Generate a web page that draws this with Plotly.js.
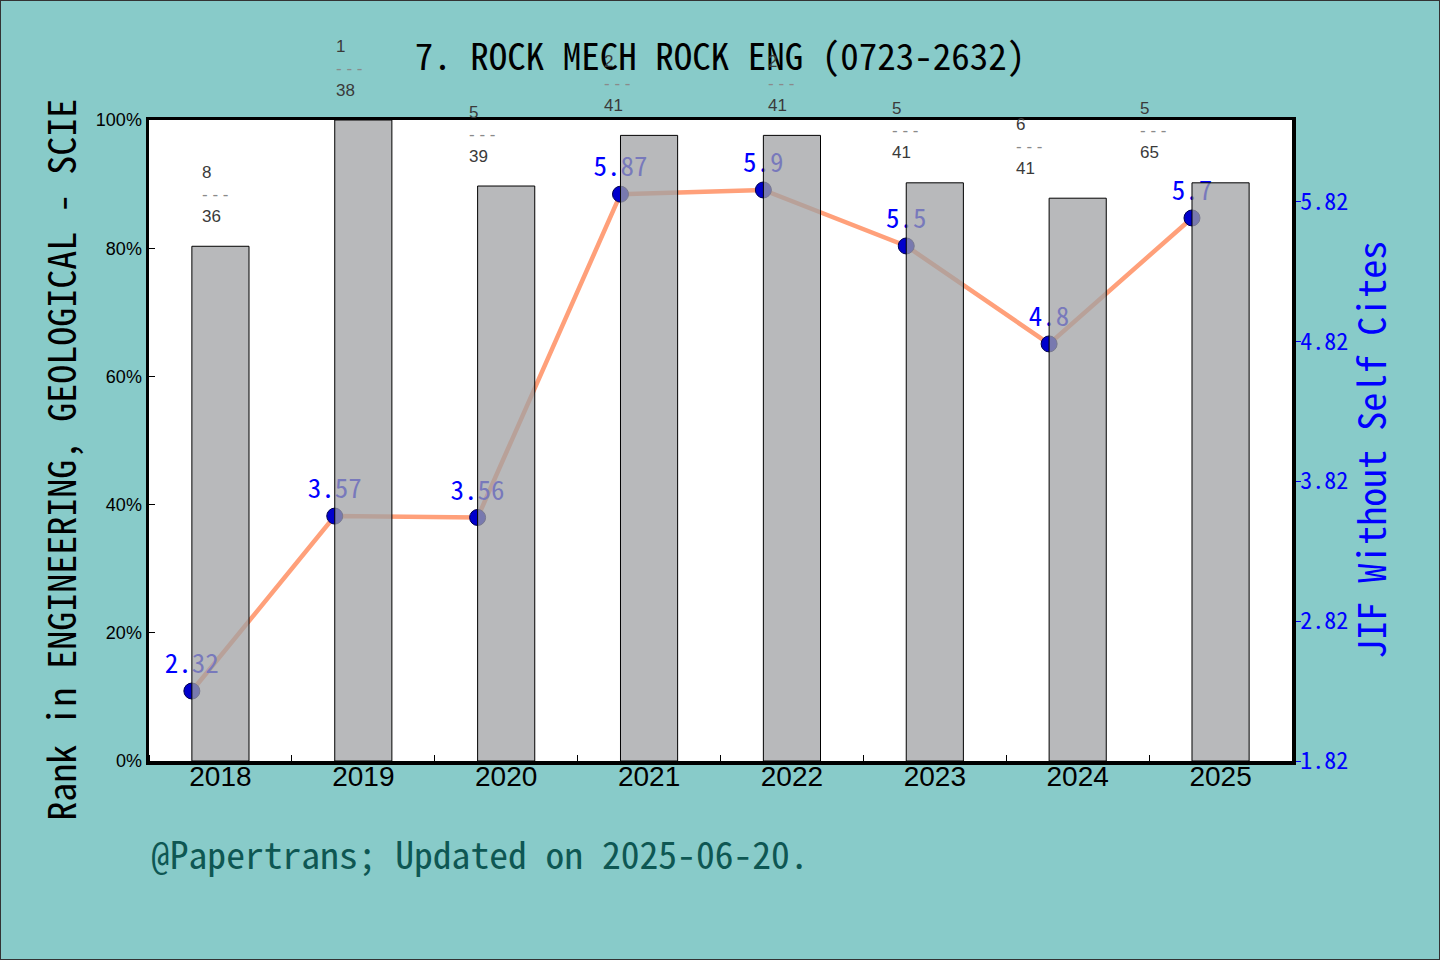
<!DOCTYPE html>
<html>
<head>
<meta charset="utf-8">
<script src="https://cdn.plot.ly/plotly-3.0.1.min.js"></script>
<style>
html,body{margin:0;padding:0;background:#88cbc9;}
#chart{width:1440px;height:960px;box-sizing:border-box;border:1px solid #333;}
</style>
</head>
<body>
<div id="chart"></div>
<script>
// ---- data ----
const years = [2018, 2019, 2020, 2021, 2022, 2023, 2024, 2025];
const rankPercent = [80.3, 100, 89.7, 97.6, 97.6, 90.2, 87.8, 90.2];
const rankPosition = [8, 1, 5, 2, 2, 5, 6, 5];
const rankTotal = [36, 38, 39, 41, 41, 41, 41, 65];
const jifNoSelf = [2.32, 3.57, 3.56, 5.87, 5.9, 5.5, 4.8, 5.7];
const percentTicks = [0, 20, 40, 60, 80, 100];
const jifTicks = [1.82, 2.82, 3.82, 4.82, 5.82];

const chartTitle = '7. ROCK MECH ROCK ENG (0723-2632)';
const leftTitle = 'Rank in ENGINEERING, GEOLOGICAL - SCIE';
const rightTitle = 'JIF Without Self Cites';
const footer = '@Papertrans; Updated on 2025-06-20.';

// ---- styles ----
const MONO = '"Noto Sans Mono CJK SC", "Liberation Mono", monospace';
const SANS = '"Liberation Sans", Arial, sans-serif';
const labelShift = [-20, -29, -39, -47, -26, -45, -64, -83];
const W = 1438, H = 958;

const lineTrace = {
  type: 'scatter',
  mode: 'lines+markers+text',
  x: years.map(y => y - 0.2),
  y: jifNoSelf,
  xaxis: 'x', yaxis: 'y',
  text: jifNoSelf.map(v => String(v)),
  textposition: 'top center',
  textfont: {family: MONO, size: 27, color: '#0000ff'},
  line: {color: '#ffa07a', width: 4.5},
  marker: {color: '#0000cd', size: 16, line: {color: '#000050', width: 1}},
  cliponaxis: false,
  hoverinfo: 'x+y'
};

const barTrace = {
  type: 'bar',
  x: years,
  y: rankPercent,
  xaxis: 'x', yaxis: 'y2',
  width: 0.4,
  marker: {color: 'rgba(160,161,164,0.75)', line: {color: '#000', width: 1}},
  hoverinfo: 'x+y'
};

const annotations = years.map((yr, i) => ({
  x: yr, y: rankPercent[i], xref: 'x', yref: 'y2',
  text: rankPosition[i] + '<br><span style="color:#8a8a8a">- - -</span><br>' + rankTotal[i],
  showarrow: false, xanchor: 'left', yanchor: 'middle', align: 'left',
  xshift: labelShift[i], yshift: 52,
  font: {family: SANS, size: 17, color: '#3a3a3a'}
}));
annotations.push({
  text: footer, xref: 'paper', yref: 'paper', x: 0, y: -0.142,
  xanchor: 'left', yanchor: 'middle', showarrow: false,
  font: {family: MONO, size: 37.6, color: '#0e5753'}
});
annotations.push({
  text: leftTitle, xref: 'paper', yref: 'paper', x: -0.078, y: 0.4696,
  xanchor: 'center', yanchor: 'middle', textangle: -90, showarrow: false,
  font: {family: MONO, size: 38, color: '#000'}
});
annotations.push({
  text: rightTitle, xref: 'paper', yref: 'paper', x: 1.068, y: 0.4852,
  xanchor: 'center', yanchor: 'middle', textangle: -90, showarrow: false,
  font: {family: MONO, size: 38, color: '#0000ff'}
});

const layout = {
  width: W, height: H,
  paper_bgcolor: '#88cbc9', plot_bgcolor: '#ffffff',
  margin: {l: 148, r: 147, t: 119, b: 198, pad: 0},
  showlegend: false,
  title: {text: chartTitle, x: 0.5, xanchor: 'center', y: 1 - 56 / H, yanchor: 'middle',
          font: {family: MONO, size: 37, color: '#000'}},
  xaxis: {
    range: [2017.5, 2025.5], tickmode: 'array', tickvals: years, ticktext: years.map(String),
    ticks: '', showgrid: false, zeroline: false,
    showline: true, linecolor: '#000', linewidth: 3.5, mirror: true,
    tickfont: {family: SANS, size: 28, color: '#000'},
    ticklabelstandoff: -12,
    minor: {ticks: 'inside', tick0: 2017.5, dtick: 1, ticklen: 6, tickcolor: '#000', tickwidth: 1, showgrid: false}
  },
  yaxis: {
    side: 'right', range: [1.82, 6.40], tickmode: 'array', tickvals: jifTicks,
    ticktext: jifTicks.map(v => v.toFixed(2)),
    ticks: 'outside', ticklen: 5, tickcolor: '#0000ff', tickwidth: 1,
    tickfont: {family: MONO, size: 24, color: '#0000ff'},
    ticklabelstandoff: -5,
    showgrid: false, zeroline: false,
    showline: true, linecolor: '#000', linewidth: 3.5
  },
  yaxis2: {
    overlaying: 'y', side: 'left', range: [0, 100], tickmode: 'array', tickvals: percentTicks,
    ticktext: percentTicks.map(v => v + '%'),
    ticks: 'inside', ticklen: 6, tickcolor: '#000', tickwidth: 1,
    tickfont: {family: SANS, size: 18, color: '#000'},
    showgrid: false, zeroline: false,
    showline: true, linecolor: '#000', linewidth: 3.5
  },
  annotations: annotations
};

Plotly.newPlot('chart', [lineTrace, barTrace], layout, {displayModeBar: false, staticPlot: true});
</script>
</body>
</html>
